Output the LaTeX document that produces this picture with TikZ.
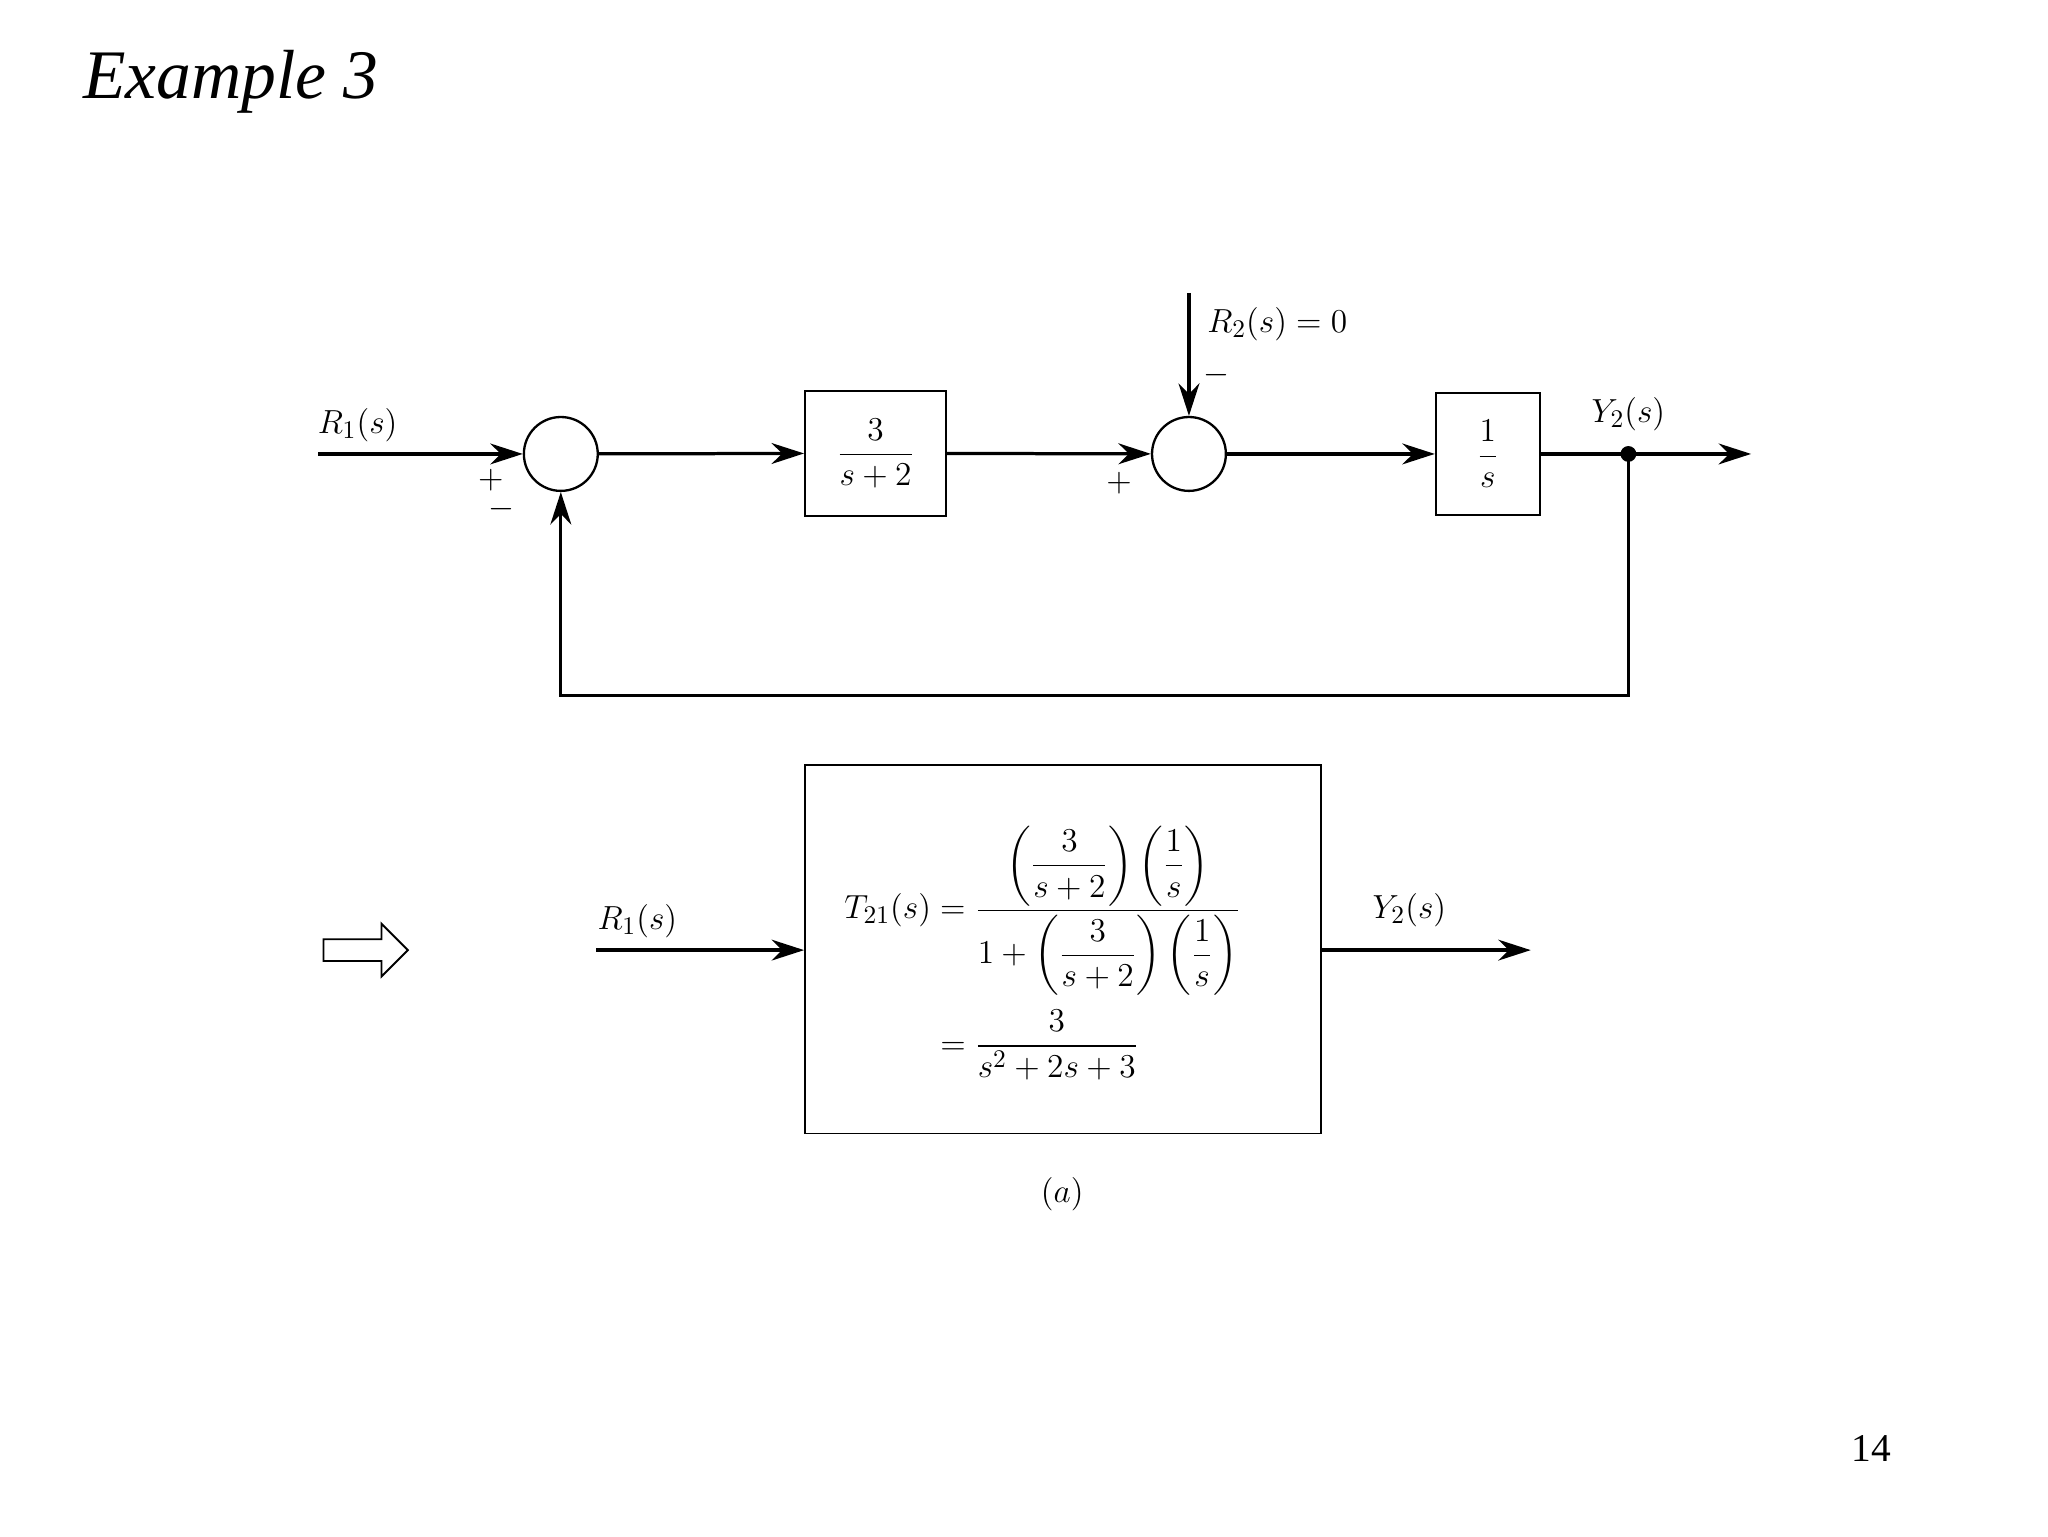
\documentclass[tikz,border=0pt]{standalone}
\usepackage{amsmath}
\usepackage{fontspec}
\setmainfont{Liberation Serif}
\usetikzlibrary{arrows.meta,shapes.arrows}
\begin{document}
\begin{tikzpicture}[x=0.02cm,y=-0.02cm,
  sig/.style={line width=1.4pt,-{Stealth[length=14pt,width=9pt]}},
  ln/.style={line width=1.4pt},
  sum/.style={circle,draw,line width=1pt,minimum size=1.12cm,inner sep=0pt},
  blk/.style={draw,line width=0.8pt,inner sep=0pt},
  lab/.style={font=\fontsize{15}{18}\selectfont}]
\useasboundingbox (0,0) rectangle (1552,1164);
\node[font=\fontsize{30}{36}\selectfont\itshape] (title) at (175,62) {Example 3};
\node[font=\fontsize{17}{20}\selectfont] (pg) at (1418,1098) {14};
% top diagram
\coordinate (in) at (241,344);
\node[sum] (s1) at (425,344) {};
\node[blk,minimum width=2.14cm,minimum height=1.9cm,lab] (b1) at (663.5,343.5) {$\dfrac{3}{s+2}$};
\node[sum] (s2) at (901,344) {};
\node[blk,minimum width=1.58cm,minimum height=1.84cm,lab] (b2) at (1127.5,344) {$\dfrac{1}{s}$};
\coordinate (dot) at (1234,344);
\coordinate (out) at (1327,344);
\coordinate (r2) at (901,222);
\coordinate (fb1) at (1234,527);
\coordinate (fb2) at (425,527);
\draw[sig] (in) -- (s1);
\draw[sig] (s1) -- (b1);
\draw[sig] (b1) -- (s2);
\draw[sig] (s2) -- (b2);
\draw[ln] (b2) -- (dot);
\draw[sig] (dot) -- (out);
\fill (dot) circle (6);
\draw[sig] (r2) -- (s2);
\draw[sig] (dot) -- (fb1) -- (fb2) -- (s1);
\node[lab] (lr1) at (271,322) {$R_1(s)$};
\node[lab] (ly2) at (1234,314) {$Y_2(s)$};
\node[lab] (lr2) at (968,246) {$R_2(s)=0$};
\node[lab] (m2) at (922,284) {$-$};
\node[lab] (p1) at (372,364) {$+$};
\node[lab] (m1) at (380,386) {$-$};
\node[lab] (p2) at (848,366) {$+$};
% bottom diagram
\node[single arrow,draw,line width=0.8pt,minimum height=1.28cm,minimum width=0.8cm,single arrow head extend=0.12cm,inner sep=2pt] (ha) at (273,720) {};
\node[blk,minimum width=7.82cm,minimum height=5.58cm] (tb) at (805.5,719.5) {};
\node[lab] (eq) at (790,722) {$\begin{array}{r@{\;}l}
T_{21}(s)= & \dfrac{\left(\dfrac{3}{s+2}\right)\left(\dfrac{1}{s}\right)}{1+\left(\dfrac{3}{s+2}\right)\left(\dfrac{1}{s}\right)}\\[34pt]
= & \dfrac{3}{s^2+2s+3}
\end{array}$};
\coordinate (in2) at (452,720);
\coordinate (out2) at (1160,720);
\draw[sig] (in2) -- (tb.west|-in2);
\draw[sig] (tb.east|-out2) -- (out2);
\node[lab] (lr1b) at (483,698) {$R_1(s)$};
\node[lab] (ly2b) at (1068,690) {$Y_2(s)$};
\node[lab] (cap) at (805,905) {$(a)$};
\end{tikzpicture}
\end{document}
